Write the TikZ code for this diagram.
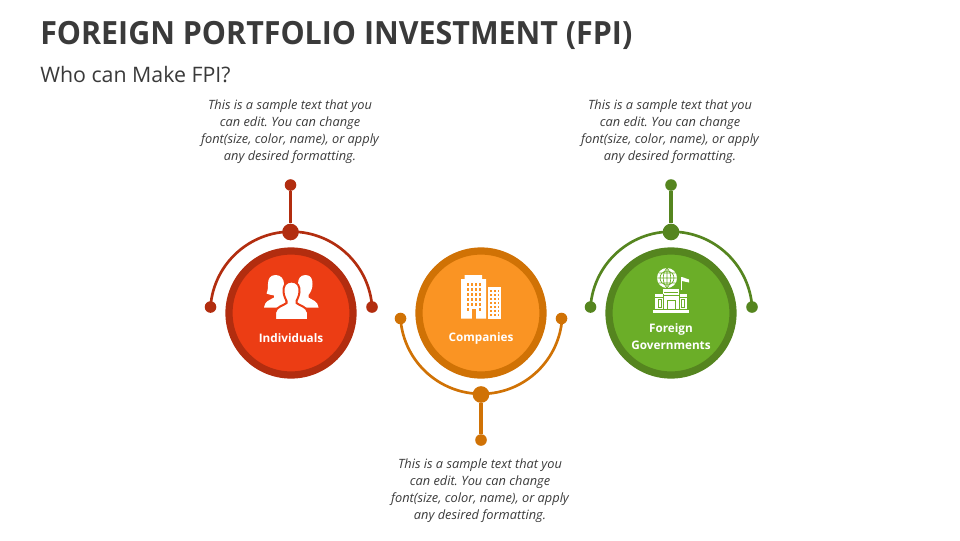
\documentclass[tikz,border=0pt]{standalone}
\usepackage{fontspec}
\setmainfont{Open Sans}
\newfontfamily\titlefont[FakeStretch=0.95]{Open Sans}
\frenchspacing
\definecolor{redfill}{HTML}{EC3D14}
\definecolor{redline}{HTML}{B22D0F}
\definecolor{orangefill}{HTML}{FA9423}
\definecolor{orangeline}{HTML}{D07205}
\definecolor{greenfill}{HTML}{6BAE28}
\definecolor{greenline}{HTML}{55851F}
\definecolor{headgray}{HTML}{3A3A3A}
\tikzset{
	disc/.style={circle,draw=#1line,fill=#1fill,line width=5.4pt,minimum size=93pt,inner sep=0pt},
	dot/.style={circle,fill=#1line,minimum size=8.7pt,inner sep=0pt},
	hub/.style={circle,fill=#1line,minimum size=12.5pt,inner sep=0pt},
	link/.style={draw=#1line,line width=2pt},
	stem/.style={draw=#1line,line width=2.5pt},
	note/.style={font=\fontsize{9.6}{12.75}\selectfont\itshape,text=headgray,align=center,inner sep=0pt},
	label/.style={font=\fontsize{8.8}{12.75}\selectfont\bfseries,text=white,align=center,inner sep=0pt}
}
\begin{document}
\begin{tikzpicture}[x=0.75pt,y=0.75pt]
	\useasboundingbox (0,0) rectangle (960,-540);
	% headings
	\node (title) [anchor=west,inner sep=0pt,font=\titlefont\fontsize{24}{28}\selectfont\bfseries,text=headgray] at (40,-35.5) {FOREIGN PORTFOLIO INVESTMENT (FPI)};
	\node (subtitle) [anchor=west,inner sep=0pt,font=\fontsize{16}{20}\selectfont,text=headgray] at (40,-74.5) {Who can Make FPI?};
	% individuals
	\node (indDisc) [disc=red] at (291,-313) {};
	\node (indLeft) [dot=red] at (210.5,-307) {};
	\node (indRight) [dot=red] at (372,-307) {};
	\node (indHub) [hub=red] at (290.5,-232) {};
	\node (indEnd) [dot=red] at (290.5,-185) {};
	\draw [link=red] (indLeft.center) arc [start angle=176,end angle=4,radius=81];
	\draw [stem=red] (indHub) -- (indEnd);
	\node (indLabel) [label] at (291,-338.5) {Individuals};
	\node (indNote) [note] at (290,-132) {This is a sample text that you\\can edit. You can change\\font(size, color, name), or apply\\any desired formatting.};
	% people icon
	\fill [white] (275.5,-275) .. controls (281,-275) and (284,-279) .. (284,-284) -- (284,-296) -- (287,-307.5) -- (264,-307.5) .. controls (264.5,-301) and (270,-300) .. (274,-297.5) -- (274,-295.5) .. controls (271,-295) and (269,-294.5) .. (266.5,-293.5) .. controls (268,-290) and (268,-287) .. (268,-284) .. controls (268,-279) and (270,-275) .. (275.5,-275) -- cycle;
	\fill [white] (305.5,-275) .. controls (300,-275) and (298,-279) .. (298,-284) -- (298,-296) -- (295,-307.5) -- (318.5,-307.5) .. controls (318,-301) and (312,-300) .. (308.5,-297.5) -- (308.5,-295) .. controls (311,-292) and (312.5,-288) .. (312.5,-284) .. controls (312.5,-279) and (311,-275) .. (305.5,-275) -- cycle;
	\draw [fill=white,draw=redfill,line width=1.5pt] (291.5,-281.5) .. controls (298,-281.5) and (300,-287) .. (299.5,-292) .. controls (299,-296) and (297.5,-299) .. (296.5,-301) -- (296.5,-303) .. controls (299,-305.5) and (307,-306.5) .. (308,-312.5) -- (308,-320) -- (275,-320) -- (275,-312.5) .. controls (276,-306.5) and (284,-305.5) .. (286.5,-303) -- (286.5,-301) .. controls (285.5,-299) and (284,-296) .. (283.5,-292) .. controls (283,-287) and (285,-281.5) .. (291.5,-281.5) -- cycle;
	\fill [redfill] (272,-319) rectangle (311,-322);
	% companies
	\node (comDisc) [disc=orange] at (481,-313) {};
	\node (comLeft) [dot=orange] at (400.5,-318.5) {};
	\node (comRight) [dot=orange] at (561.5,-318.5) {};
	\node (comHub) [hub=orange] at (481,-394.5) {};
	\node (comEnd) [dot=orange] at (481,-440) {};
	\draw [link=orange] (comLeft.center) arc [start angle=184,end angle=356,radius=81];
	\draw [stem=orange] (comHub) -- (comEnd);
	\node (comLabel) [label] at (481,-338.5) {Companies};
	\node (comNote) [note] at (480,-490.5) {This is a sample text that you\\can edit. You can change\\font(size, color, name), or apply\\any desired formatting.};
	% building icon
	\fill [white] (461,-318.5) -- (461,-279) -- (464.5,-279) -- (464.5,-275) -- (482,-275) -- (482,-279) -- (486,-279) -- (486,-318.5) -- cycle;
	\fill [white] (488,-318.5) rectangle (501,-287);
	\foreach \col in {467,471,475,479}
		\foreach \row in {283,288,293,298,303}
			\fill [orangefill] (\col,-\row) rectangle ++(2,-3);
	\foreach \col in {467,479}
		\fill [orangefill] (\col,-308) rectangle ++(2,-3);
	\fill [orangefill] (471.5,-309) rectangle (476,-318.5);
	\foreach \col in {490,494,497.5}
		\foreach \row in {290,294,298,302,306,310,314}
			\fill [orangefill] (\col,-\row) rectangle ++(1.6,-1.8);
	% foreign governments
	\node (govDisc) [disc=green] at (671,-313) {};
	\node (govLeft) [dot=green] at (590.5,-307) {};
	\node (govRight) [dot=green] at (752,-307) {};
	\node (govHub) [hub=green] at (671,-232) {};
	\node (govEnd) [dot=green] at (671,-185) {};
	\draw [link=green] (govLeft.center) arc [start angle=176,end angle=4,radius=81];
	\draw [stem=green] (govHub) -- (govEnd);
	\node (govLabel) [label] at (671,-337) {Foreign\\Governments};
	\node (govNote) [note] at (670,-132) {This is a sample text that you\\can edit. You can change\\font(size, color, name), or apply\\any desired formatting.};
	% government icon
	\fill [white] (667,-278) circle (10);
	\draw [greenfill,line width=0.5pt] (667,-278) circle (7) (667,-268) -- (667,-288) (657,-278) -- (677,-278) (658.5,-273) -- (675.5,-273) (658.5,-283) -- (675.5,-283);
	\draw [greenfill,line width=0.5pt] (667,-268) .. controls (662,-273) and (662,-283) .. (667,-288) .. controls (672,-283) and (672,-273) .. (667,-268);
	\draw [white,line width=0.7pt] (681,-290) -- (681,-277);
	\fill [white] (682,-277) -- (689,-279.5) -- (689,-282.5) -- (682,-281) -- cycle;
	\fill [white] (653,-310) rectangle (689,-312.5);
	\fill [white] (655,-309) rectangle (687,-294);
	\fill [white] (663,-309) rectangle (679,-289);
	\draw [greenfill,line width=0.4pt] (663,-309) -- (663,-294) (679,-309) -- (679,-294) (667,-309) -- (667,-300) -- (675,-300) -- (675,-309) (663,-295) -- (679,-295) (664,-292) -- (678,-292);
	\draw [greenfill,line width=0.4pt] (658,-307) rectangle (661,-299) (681.5,-307) rectangle (684.5,-299) (655,-297) -- (663,-297) (679,-297) -- (687,-297);
\end{tikzpicture}
\end{document}
